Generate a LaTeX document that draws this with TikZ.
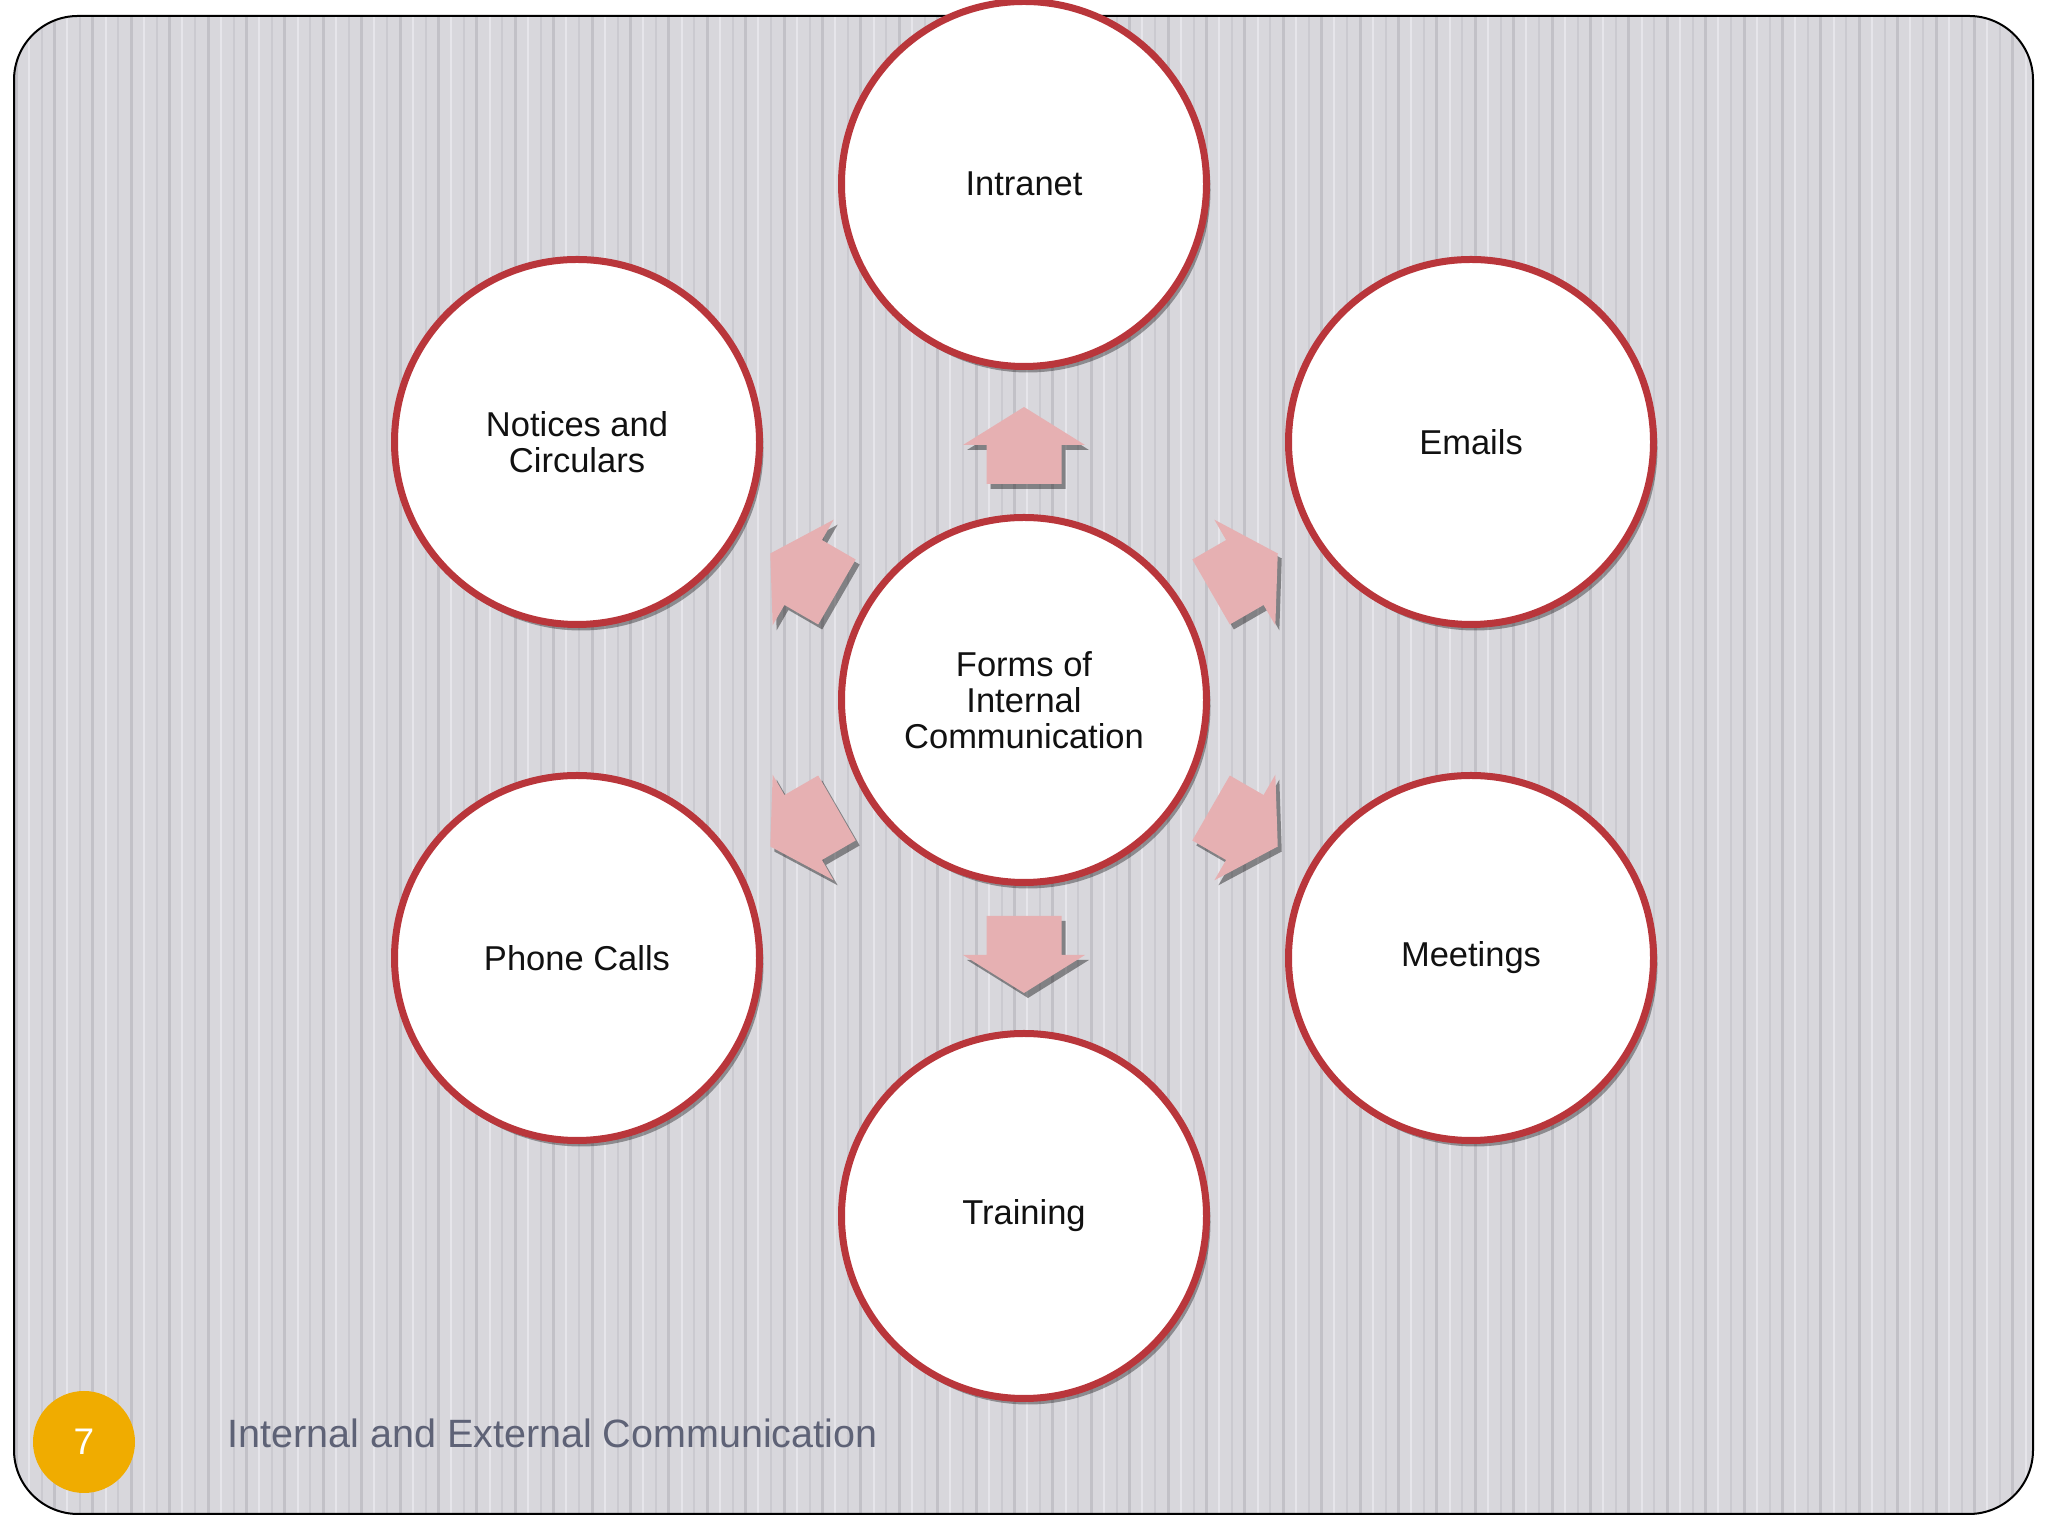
\documentclass[tikz,border=0pt]{standalone}
\usepackage{fontspec}
\setmainfont{Liberation Sans}
\usetikzlibrary{shadows}
\definecolor{ink}{HTML}{111111}
\definecolor{ringred}{HTML}{B9363B}
\definecolor{pinkA}{HTML}{E6B0B2}
\definecolor{paper}{HTML}{D8D7DC}
\definecolor{stripeA}{HTML}{C2C1C7}
\definecolor{stripeB}{HTML}{E6E5EA}
\definecolor{stripeC}{HTML}{CBCAD0}
\definecolor{gold}{HTML}{F0AC00}
\definecolor{footgray}{HTML}{5E6276}
\tikzset{
  frame/.style={rounded corners=64pt},
  bubble/.style={circle, draw=ringred, line width=7pt, fill=white, minimum size=365pt, inner sep=0pt, align=center,
    font=\fontsize{34.5}{36}\selectfont, text=ink,
    drop shadow={shadow xshift=4pt, shadow yshift=-6pt, fill=black, opacity=0.35}},
  flowarrow/.style={fill=pinkA, drop shadow={shadow xshift=4pt, shadow yshift=-5pt, fill=black, opacity=0.4}},
  pagedot/.style={circle, fill=gold, minimum size=102pt, inner sep=0pt, text=white, font=\fontsize{37}{40}\selectfont},
  footer/.style={anchor=base west, text=footgray, font=\fontsize{39.5}{44}\selectfont}
}

\begin{document}
\begin{tikzpicture}[x=1pt,y=1pt]
\useasboundingbox (0,0) rectangle (2048,1536);

% striped slide background
\fill[paper, frame] (14,22) rectangle (2033,1520);
\begin{scope}
\clip[frame] (14,22) rectangle (2033,1520);
\foreach \i in {0,...,52}{
  \draw[stripeA, line width=3pt] (16+\i*38.4,22) -- (16+\i*38.4,1520);
  \draw[stripeB, line width=2pt] (28.8+\i*38.4,22) -- (28.8+\i*38.4,1520);
  \draw[stripeC, line width=2pt] (41.6+\i*38.4,22) -- (41.6+\i*38.4,1520);
}
\end{scope}
\draw[black, line width=2pt, frame] (14,22) rectangle (2033,1520);

\node[bubble] (main) at (1024,836) {Forms of\\Internal\\Communication};

% block arrows round the centre
\foreach \ang in {90,30,150,210,270,330}{
  \begin{scope}[shift={(main.center)}, rotate=\ang]
    \fill[flowarrow] (216,-37.5) -- (255,-37.5) -- (255,-61) -- (293,0) -- (255,61) -- (255,37.5) -- (216,37.5) -- cycle;
  \end{scope}
}

\node[bubble] (intranet) at (1024,1352) {Intranet};
\node[bubble] (emails) at (1471,1094) {Emails};
\node[bubble] (notices) at (577,1094) {Notices and\\Circulars};
\node[bubble] (phone) at (577,578) {Phone Calls};
\node[bubble] (meetings) at (1471,578) {Meetings};
\node[bubble] (training) at (1024,320) {Training};

\node[pagedot] (pagenum) at (84,94) {7};
\node[footer] (foot) at (224,88) {Internal and External Communication};

\end{tikzpicture}
\end{document}
